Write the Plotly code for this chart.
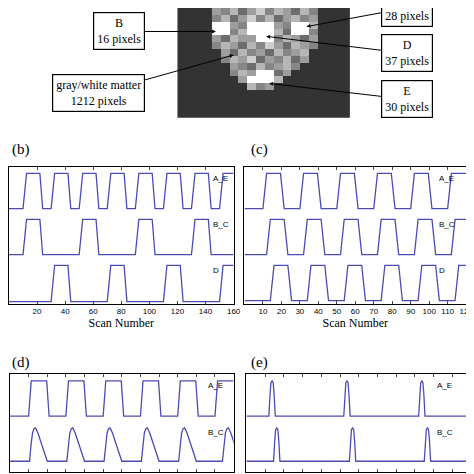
import plotly.graph_objects as go

W = H = 474
BLUE = "#4b4bb4"
SERIF = "Liberation Serif"

# brain slice gray levels (None = outside), 12 x 12
brain = [
    [5, 4, 6, 3, 5, 7, 4, 6, 5, 3, 6, 4],
    [4, 6, 3, 5, 7, 4, 6, 3, 5, 6, 4, 5],
    [9, 9, 5, 4, 9, 9, 9, 5, 4, 9, 9, 6],
    [9, 9, 4, 6, 9, 9, 9, 6, 3, 9, 9, 4],
    [5, 3, 6, 5, 5, 9, 9, 4, 6, 5, 3, 5],
    [4, 6, 5, 3, 6, 4, 7, 5, 3, 6, 5, 4],
    [None, 5, 3, 6, 4, 5, 3, 6, 4, 5, 6, None],
    [None, 4, 6, 5, 7, 3, 5, 4, 6, 3, 5, None],
    [None, None, 5, 4, 3, 6, 4, 5, 6, 4, None, None],
    [None, None, 4, 6, 5, 9, 9, 3, 5, None, None, None],
    [None, None, None, 5, 9, 9, 9, 6, None, None, None, None],
    [None, None, None, None, 6, 4, 5, None, None, None, None, None],
]

# pulse onsets (scan number)
b_ae = [10, 30, 50, 70, 90, 110, 130, 150]
b_bc = [10, 50, 90, 130]
b_d = [30, 70, 110, 150]
c_ae = [10, 30, 50, 70, 90, 110]
c_bc = [12, 32, 52, 72, 92, 112]
c_d = [14, 34, 54, 74, 94, 114]
d_ae = [10, 30, 50, 70, 90, 110]
d_bc = [10.5, 30.5, 50.5, 70.5, 90.5, 114]
e_ae = [12, 52, 92]
e_bc = [14.5, 55, 95]

# pulse shapes (time offsets, relative level)
trap_b = ([0, 2.5, 12, 14], [0, 1, 1, 0])
trap_c = ([0, 2, 9.5, 11.5], [0, 1, 1, 0])
trap_d = ([0, 1.4, 9.7, 11], [0, 1, 1, 0])
hump_d = ([0, 0.8, 1.6, 2.4, 3.2, 4.5, 6, 7.5, 9.5], [0, 0.5, 0.85, 0.98, 1, 0.85, 0.6, 0.3, 0])
spike_e = ([0, 0.6, 1.1, 1.7, 2.3, 2.8, 3.4], [0, 0.6, 0.95, 1, 0.95, 0.6, 0])


def pulse_train(onsets, shape, xmax, hold_last):
    sx, sy = shape
    xs, ys = [0], [0]
    for i, t in enumerate(onsets):
        if hold_last and i == len(onsets) - 1:
            xs += [t, t + sx[1], xmax]
            ys += [0, 1, 1]
            return xs, ys
        xs += [t + dx for dx in sx]
        ys += sy
    if xs[-1] < xmax:
        xs.append(xmax)
        ys.append(0)
    return xs, ys


def dom_x(a, b):
    return [a / W, b / W]


def dom_y(top, bottom):
    return [max(0, 1 - bottom / H), 1 - top / H]


fig = go.Figure()

# (a) brain image
fig.add_trace(go.Heatmap(z=brain, colorscale=[[0, "#555555"], [0.6, "#bbbbbb"], [1, "#ffffff"]],
                         zmin=2, zmax=9, showscale=False,
                         xaxis="x", yaxis="y", hoverinfo="skip"))

panels = [
    # name, xdom, ydom(top,bottom), xmax, label pos, series, ticks
    ("2", (1, 229), (162, 302), 160, 144, [(b_ae, trap_b, True, 97, 36, "A_E"),
                                            (b_bc, trap_b, False, 50, 36, "B_C"),
                                            (b_d, trap_b, True, 2, 37, "D")], list(range(20, 161, 20))),
    ("3", (240, 465), (162, 302), 120, 104, [(c_ae, trap_c, True, 97, 36, "A_E"),
                                              (c_bc, trap_c, True, 50, 36, "B_C"),
                                              (c_d, trap_c, True, 3, 36, "D")], list(range(10, 121, 10))),
    ("4", (2, 229), (374, 474), 120, 105, [(d_ae, trap_d, True, 57, 36, "A_E"),
                                            (d_bc, hump_d, False, 11, 34, "B_C")], list(range(10, 121, 10))),
    ("5", (242, 470), (374, 474), 120, 101, [(e_ae, spike_e, False, 57, 36, "A_E"),
                                              (e_bc, spike_e, False, 11, 34, "B_C")], list(range(10, 121, 10))),
]

layout_axes = {}
annotations = []
for name, xd, yd, xmax, lx, series, ticks in panels:
    for onsets, shape, hold, base, amp, label in series:
        xs, ys = pulse_train(onsets, shape, xmax, hold)
        fig.add_trace(go.Scatter(x=xs, y=[base + amp * v for v in ys], mode="lines",
                                 line=dict(color=BLUE, width=1.3),
                                 xaxis="x" + name, yaxis="y" + name, showlegend=False))
        annotations.append(dict(x=lx, y=base + amp - 5, xref="x" + name, yref="y" + name,
                                text=label, showarrow=False, xanchor="left", yanchor="middle",
                                font=dict(family="Liberation Sans", size=8, color="black")))
    bottom = yd[1] < 470
    layout_axes["xaxis" + name] = dict(domain=dom_x(*xd), range=[0, xmax], anchor="y" + name,
                                       showgrid=False, zeroline=False, showline=True, linecolor="black",
                                       linewidth=1, mirror="ticks", ticks="inside", ticklen=3,
                                       tickvals=ticks, showticklabels=bottom,
                                       tickfont=dict(family="Liberation Sans", size=8, color="black"),
                                       title=dict(text="Scan Number" if bottom else "",
                                                  font=dict(family=SERIF, size=12, color="black"),
                                                  standoff=2))
    if yd[1] >= 474:
        layout_axes["yaxis" + name] = dict(domain=[0, 1 - yd[0] / H], range=[0, 100], anchor="x" + name,
                                           showgrid=False, zeroline=False, showline=True, linecolor="black",
                                           mirror=True, showticklabels=False)
    else:
        layout_axes["yaxis" + name] = dict(domain=dom_y(*yd), range=[0, yd[1] - yd[0]], anchor="x" + name,
                                           showgrid=False, zeroline=False, showline=True, linecolor="black",
                                           mirror=True, showticklabels=False)

for txt, px, py in [("(b)", 2, 145), ("(c)", 245, 145), ("(d)", 2, 362), ("(e)", 245, 362)]:
    annotations.append(dict(x=px / W, y=1 - py / H, xref="paper", yref="paper", text=txt,
                            showarrow=False, xanchor="left", yanchor="middle",
                            font=dict(family=SERIF, size=15, color="black")))

# callout boxes: text, box centre (px), target (px)
callouts = [
    ("B<br>16 pixels", (114, 24), (211, 24)),
    ("gray/white matter<br>1212 pixels", (94, 86), (229, 48)),
    ("C<br>28 pixels", (403, -1), (303, 19)),
    ("D<br>37 pixels", (403, 46), (262, 29)),
    ("E<br>30 pixels", (403, 93), (265, 77)),
]
for txt, (bx, by), (tx, ty) in callouts:
    annotations.append(dict(x=tx / W, y=1 - ty / H, xref="paper", yref="paper",
                            ax=bx - tx, ay=by - ty, text=txt, showarrow=True, arrowhead=2,
                            arrowsize=0.8, arrowwidth=1, arrowcolor="black",
                            bordercolor="black", borderwidth=1.2, borderpad=3, bgcolor="white",
                            font=dict(family=SERIF, size=12, color="black")))

fig.update_layout(
    width=W, height=H, margin=dict(l=0, r=0, t=0, b=0),
    paper_bgcolor="white", plot_bgcolor="white",
    xaxis=dict(domain=dom_x(172, 347), range=[-4.39, 15.06], visible=False),
    yaxis=dict(domain=dom_y(0, 112), range=[15.5, -0.5], visible=False),
    annotations=annotations, **layout_axes,
)
fig.add_shape(type="rect", xref="paper", yref="paper", x0=172 / W, x1=347 / W,
              y0=1 - 112 / H, y1=1, fillcolor="#333333", line_width=0, layer="below")

fig.write_html("out.html")
